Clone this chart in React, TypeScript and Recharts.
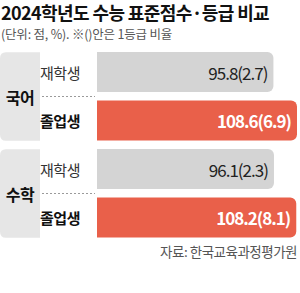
import { BarChart, Bar, XAxis, YAxis, Cell, LabelList } from 'recharts';

const subjects = ['국어', '수학'];
const students = ['재학생', '졸업생', '재학생', '졸업생'];
const scores = [95.8, 108.6, 96.1, 108.2];
const firstGrade = [2.7, 6.9, 2.3, 8.1];

const GRAY = '#d4d4d4';
const ORANGE = '#e9604a';
const FONT = '"Noto Sans CJK KR", "Noto Sans", sans-serif';

const chartData = students.map((name, i) => ({
  name,
  score: scores[i],
  rate: firstGrade[i],
  grad: i % 2 === 1,
}));

const BAND = 48.5;

// y-axis tick: sub label, plus group box / dashed divider on the first row of each subject
function StudentTick(props: any) {
  const { x, y, payload, index } = props;
  const grad = index % 2 === 1;
  return (
    <g>
      {!grad && (
        <g>
          <path
            d={`M6 ${y - 20} H40 V${y + BAND + 20} H6 Q0 ${y + BAND + 20} 0 ${y + BAND + 14} V${y - 14} Q0 ${y - 20} 6 ${y - 20} Z`}
            fill="#e6e6e6"
          />
          <text
            x={20}
            y={y + BAND / 2}
            textAnchor="middle"
            dominantBaseline="central"
            fontFamily={FONT}
            fontSize={16}
            fontWeight={700}
            fill="#111"
            letterSpacing={-0.5}
          >
            {subjects[Math.floor(index / 2)]}
          </text>
          <line
            x1={42}
            x2={95}
            y1={y + BAND / 2}
            y2={y + BAND / 2}
            stroke="#9a9a9a"
            strokeDasharray="2 2"
          />
        </g>
      )}
      <text
        x={x - 29}
        y={y}
        textAnchor="middle"
        dominantBaseline="central"
        fontFamily={FONT}
        fontSize={15}
        fontWeight={grad ? 700 : 400}
        fill={grad ? '#111' : '#333'}
        letterSpacing={-0.5}
      >
        {payload.value}
      </text>
    </g>
  );
}

function ValueLabel(props: any) {
  const { x, y, width, height, index } = props;
  const d = chartData[index];
  return (
    <text
      x={x + width - 6}
      y={y + height / 2}
      textAnchor="end"
      dominantBaseline="central"
      fontFamily={FONT}
      fontSize={17}
      fontWeight={d.grad ? 700 : 400}
      fill={d.grad ? '#fff' : '#222'}
      letterSpacing={-1}
    >
      {`${d.score}(${d.rate})`}
    </text>
  );
}

export default function App() {
  return (
    <div
      style={{
        position: 'absolute',
        left: 0,
        top: 0,
        width: 300,
        height: 293,
        background: '#fff',
        fontFamily: FONT,
      }}
    >
      <div
        style={{
          position: 'absolute',
          left: 1,
          top: 2,
          fontSize: 18,
          fontWeight: 700,
          letterSpacing: -0.6,
          color: '#111',
          lineHeight: '20px',
          whiteSpace: 'nowrap',
        }}
      >
        2024학년도 수능 표준점수·등급 비교
      </div>
      <div
        style={{
          position: 'absolute',
          left: 1,
          top: 25,
          fontSize: 12.5,
          color: '#555',
          letterSpacing: -0.2,
          lineHeight: '18px',
          whiteSpace: 'nowrap',
        }}
      >
        (단위: 점, %). ※()안은 1등급 비율
      </div>
      <div style={{ position: 'absolute', left: 0, top: 48 }}>
        <BarChart
          width={300}
          height={194}
          data={chartData}
          layout="vertical"
          margin={{ top: 0, right: 3, bottom: 0, left: 0 }}
        >
          <XAxis type="number" domain={[0, 108.6]} hide />
          <YAxis
            type="category"
            dataKey="name"
            width={97}
            axisLine={false}
            tickLine={false}
            tick={<StudentTick />}
            interval={0}
          />
          <Bar dataKey="score" barSize={40} radius={[0, 6, 6, 0]} isAnimationActive={false}>
            {chartData.map((d, i) => (
              <Cell key={i} fill={d.grad ? ORANGE : GRAY} />
            ))}
            <LabelList dataKey="score" content={<ValueLabel />} />
          </Bar>
        </BarChart>
      </div>
      <div
        style={{
          position: 'absolute',
          right: 3,
          top: 241,
          fontSize: 13.5,
          color: '#555',
          letterSpacing: -0.5,
          lineHeight: '20px',
          whiteSpace: 'nowrap',
        }}
      >
        자료: 한국교육과정평가원
      </div>
    </div>
  );
}
